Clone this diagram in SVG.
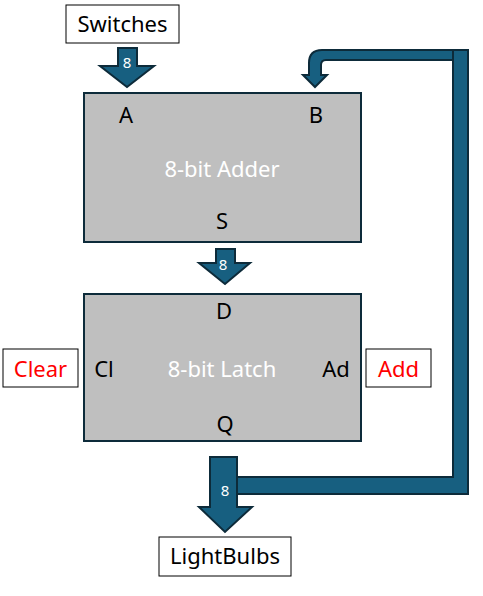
<svg xmlns="http://www.w3.org/2000/svg" width="483" height="596" viewBox="0 0 483 596">
<style>
.lbl{fill:#fff;stroke:#000;stroke-width:1}
.blk{fill:#bfbfbf;stroke:#0d2b3a;stroke-width:2}
.bus{fill:#175f80;stroke:#0d2b3a;stroke-width:2;stroke-linejoin:miter}
text{font-family:"Noto Sans","Open Sans","DejaVu Sans",sans-serif;font-size:22px;text-anchor:middle;dominant-baseline:central}
.w{fill:#fff}
.r{fill:#ff0000}
.n{font-size:15px;fill:#fff}
</style>
<rect width="483" height="596" fill="#fff"/>
<g id="connectors">
<path class="bus" d="M237,477 L453,477 L453,50 L468,50 L468,494 L237,494 Z"/>
<path class="bus" d="M453,50 L322,50 Q309,50 309,63 L309,75 L303,75 L315,87 L327,75 L321,75 L321,65 Q321,60 326,60 L453,60 Z"/>
<g id="bus-switches">
<path class="bus" d="M118,48 L137,48 L137,66 L154,66 L127,87 L100,66 L118,66 Z"/>
<text class="n" x="127" y="62">8</text>
</g>
<g id="bus-sum">
<path class="bus" d="M216,249 L235,249 L235,263 L250,263 L225,284 L199,263 L216,263 Z"/>
<text class="n" x="223" y="264">8</text>
</g>
<g id="bus-out">
<path class="bus" d="M210,457 L237,457 L237,507 L252,507 L225,532 L199,507 L210,507 Z"/>
<text class="n" x="225" y="490">8</text>
</g>
</g>
<g id="switches">
<rect class="lbl" x="66" y="5" width="113" height="38"/>
<text x="122.5" y="23">Switches</text>
</g>
<g id="adder">
<rect class="blk" x="84" y="93" width="277" height="149"/>
<text x="126" y="114">A</text>
<text x="316" y="114">B</text>
<text class="w" x="222" y="168">8-bit Adder</text>
<text x="222" y="220">S</text>
</g>
<g id="latch">
<rect class="blk" x="84" y="294" width="277" height="147"/>
<text x="224" y="310">D</text>
<text x="104" y="368">Cl</text>
<text class="w" x="222" y="368">8-bit Latch</text>
<text x="336" y="368">Ad</text>
<text x="225" y="423">Q</text>
</g>
<g id="clear">
<rect class="lbl" x="3" y="349" width="75" height="38"/>
<text class="r" x="40.5" y="368">Clear</text>
</g>
<g id="add">
<rect class="lbl" x="366" y="349" width="65" height="38"/>
<text class="r" x="398.5" y="368">Add</text>
</g>
<g id="lightbulbs">
<rect class="lbl" x="159" y="537" width="132" height="39"/>
<text x="225" y="555">LightBulbs</text>
</g>
</svg>
